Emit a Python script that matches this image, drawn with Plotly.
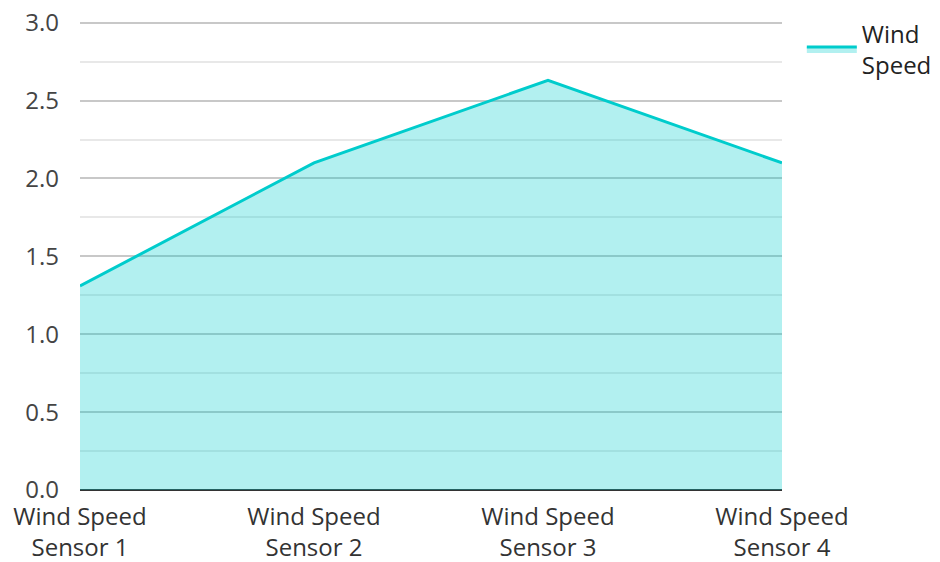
import plotly.graph_objects as go

# Wind speed readings per sensor
categories = ["Wind Speed<br>Sensor 1", "Wind Speed<br>Sensor 2",
              "Wind Speed<br>Sensor 3", "Wind Speed<br>Sensor 4"]
wind_speed = [1.31, 2.10, 2.63, 2.10]
y_ticks = [0, 0.5, 1.0, 1.5, 2.0, 2.5, 3.0]
y_tick_labels = ["0.0", "0.5", "1.0", "1.5", "2.0", "2.5", "3.0"]

fig = go.Figure()
fig.add_trace(go.Scatter(
    x=categories,
    y=wind_speed,
    name="Wind<br>Speed",
    mode="lines",
    line=dict(color="#00cccc", width=3),
    fill="tozeroy",
    fillcolor="rgba(0,204,204,0.3)",
))

fig.update_layout(
    width=940,
    height=562,
    margin=dict(l=80, r=158, t=18, b=72, autoexpand=False),
    paper_bgcolor="white",
    plot_bgcolor="white",
    font=dict(family="Open Sans", size=24, color="#333333"),
    showlegend=True,
    legend=dict(
        xref="container", yref="container",
        x=0.853, xanchor="left", y=0.98, yanchor="top",
        font=dict(size=24, color="#222222"),
        bgcolor="rgba(0,0,0,0)",
        itemwidth=50,
    ),
    xaxis=dict(
        type="category",
        range=[0, 3],
        automargin=False,
        showgrid=False,
        showline=False,
        zeroline=False,
        ticks="",
        ticklabelstandoff=10,
        tickfont=dict(size=24, color="#333333"),
    ),
    yaxis=dict(
        range=[0, 3.03],
        automargin=False,
        tickvals=y_ticks,
        ticktext=y_tick_labels,
        showgrid=True,
        gridcolor="#c8c8c8",
        gridwidth=1.5,
        zeroline=True,
        zerolinecolor="#333333",
        zerolinewidth=2,
        showline=False,
        ticks="",
        ticklabelstandoff=20,
        tickfont=dict(size=24, color="#444444"),
        minor=dict(dtick=0.25, showgrid=True, gridcolor="#e8e8e8", gridwidth=1.5),
    ),
)

fig.write_html("out.html")
